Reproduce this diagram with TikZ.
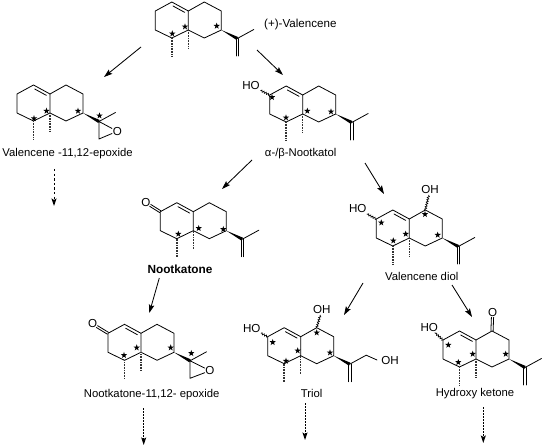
\documentclass[tikz,border=0pt]{standalone}
\usepackage{fontspec}
\setmainfont{Liberation Sans}
\usetikzlibrary{arrows.meta,decorations.pathmorphing}
\tikzset{
  x=1pt,y=-1pt,
  bond/.style={line width=.8pt,line join=round,line cap=round},
  hashb/.style={line width=1.5pt,dash pattern=on .7pt off .9pt,black!80},
  wavy/.style={line width=.7pt,decorate,decoration={snake,amplitude=.9pt,segment length=2.4pt}},
  lab/.style={font=\fontsize{11.3}{13}\selectfont,inner sep=0pt},
  atom/.style={font=\fontsize{11.6}{13}\selectfont,inner sep=.6pt},
  rxn/.style={line width=.85pt,-{Stealth[length=8.5pt,width=5.5pt,inset=1.5pt]}},
  dotrxn/.style={line width=1pt,dash pattern=on 1.5pt off 1.5pt,-{Stealth[length=7.5pt,width=5pt,inset=1.5pt,sep=0pt]}},
}
\newcommand\molskel[3]{%
  \begin{scope}[shift={(#2,#3)},name prefix=#1-]
    \coordinate (c1) at (-16.5,-9); \coordinate (c2) at (-33,0);
    \coordinate (c3) at (-33,19);   \coordinate (c4) at (-16.5,27);
    \coordinate (c5) at (0,19);     \coordinate (j) at (0,0);
    \coordinate (c7) at (16,-9);    \coordinate (c8) at (33,0);
    \coordinate (c9) at (33,19);    \coordinate (c10) at (16,27);
    \coordinate (c11) at (49,27.5); \coordinate (c12) at (65.5,18.5);
    \coordinate (c13) at (49,45);   \coordinate (m4) at (-16.5,46);
    \coordinate (m5) at (0,37);
    \coordinate (d1) at (-15.3,-5); \coordinate (d2) at (-3.6,1.4);
    \draw[bond] (c1)--(c2)--(c3)--(c4)--(c5)--(j)--(c1);
    \draw[bond] (d1)--(d2);
    \draw[bond] (j)--(c7)--(c8)--(c9)--(c10)--(c5);
    \draw[hashb] (c4)--(m4);
    \draw[hashb] (c5)--(m5);
    \fill (c9)--([shift={(-.7,1.5)}]c11)--([shift={(.7,-1.5)}]c11)--cycle;
    \draw[bond] (c11)--(c12);
  \end{scope}}
\newcommand\isopdb[1]{%
  \draw[bond] ([xshift=-1.2pt]#1-c11)--([xshift=-1.2pt]#1-c13);
  \draw[bond] ([xshift=1.2pt]#1-c11)--([xshift=1.2pt]#1-c13);}
\newcommand\epox[3]{% prefix, O x, O y
  \node[atom] (#1-O) at (#2,#3) {O};
  \draw[bond] (#1-c11)--(#1-c13)--(#1-O)--(#1-c11);}
\newcommand\ketone[3]{%
  \node[atom] (#1-k) at (#2,#3) {O};
  \draw[bond,shorten >=5pt] ([shift={(.6,-.9)}]#1-c2)--([shift={(.6,-.9)}]#1-k.center);
  \draw[bond,shorten >=5pt] ([shift={(-.6,.9)}]#1-c2)--([shift={(-.6,.9)}]#1-k.center);}
\newcommand\stars[1]{%
  \foreach \p in {#1}{\fill[shift={(\p)},scale=1.2] (0,-2.8)--(.65,-.89)--(2.66,-.87)--(1.05,.34)--(1.65,2.27)--(0,1.1)--(-1.65,2.27)--(-1.05,.34)--(-2.66,-.87)--(-.65,-.89)--cycle;}}
\begin{document}
\begin{tikzpicture}
\useasboundingbox (0,0) rectangle (543,446);
% valencene
\molskel{v}{188.3}{11}
\isopdb{v}
\stars{{172.3,33.7},{185,26.7},{216.7,26}}
\node[lab,anchor=west,font=\fontsize{11.6}{13}\selectfont] (vl) at (264,25) {(+)-Valencene};
% epoxide
\molskel{e}{50}{94}
\epox{e}{117.3}{131.3}
\stars{{34,118.5},{46.5,111},{78,111},{99.5,115.7}}
\node[lab] (el) at (67.5,154) {Valencene -11,12-epoxide};
% nootkatol
\molskel{n}{302.7}{95}
\isopdb{n}
\node[atom] (n-ho) at (251,85.7) {HO};
\draw[wavy] (n-c2)--(n-ho);
\stars{{272,97.3},{286,117.7},{307.3,111},{331,111.7}}
\node[lab] (nl) at (300.7,153.5) {α-/β-Nootkatol};
% nootkatone
\molskel{k}{193.3}{211.7}
\isopdb{k}
\ketone{k}{146}{202.7}
\stars{{178.3,234},{198.7,228.3},{223.3,229.3}}
\node[lab,font=\fontsize{11.8}{13}\selectfont\bfseries] (kl) at (180,269) {Nootkatone};
% diol
\molskel{d}{409.3}{219}
\isopdb{d}
\node[atom] (d-ho) at (357.7,209) {HO};
\node[atom] (d-oh) at (430,190) {OH};
\draw[wavy] (d-c2)--(d-ho);
\draw[wavy] (d-c7)--(d-oh);
\stars{{381.3,222.7},{393.3,240.7},{405.7,234},{437.7,235},{425,214.3}}
\node[lab] (dl) at (421.7,276) {Valencene diol};
% nootkatone epoxide
\molskel{f}{141}{333.3}
\epox{f}{210}{370.7}
\ketone{f}{92.7}{324}
\stars{{124,355.3},{136.7,347.7},{170.7,347.7},{191.3,353.3}}
\node[lab] (fl) at (151.7,394.7) {Nootkatone-11,12- epoxide};
% triol
\molskel{t}{300.7}{336.7}
\isopdb{t}
\node[atom] (t-ho) at (251.7,328.3) {HO};
\node[atom] (t-oh) at (321.7,310) {OH};
\node[atom] (t-ch) at (390,361) {OH};
\coordinate (t-c14) at (377,360);
\draw[wavy] (t-c2)--(t-ho);
\draw[wavy] (t-c7)--(t-oh);
\draw[bond] (t-c12)--(t-c14);
\stars{{272.7,342.3},{286,361},{297.7,350.7},{330,352.7},{316.7,332.7}}
\node[lab] (tl) at (311.7,393.3) {Triol};
% hydroxy ketone
\molskel{h}{476}{340}
\isopdb{h}
\node[atom] (h-ho) at (429.3,327.7) {HO};
\node[atom] (h-o) at (492.7,312.3) {O};
\draw[wavy] (h-c2)--(h-ho);
\draw[bond,shorten >=5pt] ([xshift=-1.1pt]h-c7)--([xshift=-1.1pt]h-o.center);
\draw[bond,shorten >=5pt] ([xshift=1.1pt]h-c7)--([xshift=1.1pt]h-o.center);
\stars{{448.3,345},{458.3,362.3},{472.7,354},{505.7,354}}
\node[lab] (hl) at (475,394) {Hydroxy ketone};
% arrows
\coordinate (a1s) at (141,47);  \coordinate (a1e) at (104,77);
\coordinate (a2s) at (257,50);  \coordinate (a2e) at (283,75);
\coordinate (a3s) at (252,160); \coordinate (a3e) at (222,189);
\coordinate (a4s) at (365,163); \coordinate (a4e) at (384,194);
\coordinate (a5s) at (159.3,278); \coordinate (a5e) at (149.3,313);
\coordinate (a6s) at (363,283); \coordinate (a6e) at (344,315);
\coordinate (a7s) at (452,285); \coordinate (a7e) at (472,317);
\foreach \i in {1,...,7}{\draw[rxn] (a\i s)--(a\i e);}
\coordinate (b1s) at (54,169);    \coordinate (b1e) at (54,206);
\coordinate (b2s) at (143.7,408); \coordinate (b2e) at (143.7,445);
\coordinate (b3s) at (305,403);   \coordinate (b3e) at (305,440);
\coordinate (b4s) at (483.3,407); \coordinate (b4e) at (483.3,443);
\draw[dotrxn,dash pattern=on 2.4pt off 2.2pt] (b1s)--(b1e);
\foreach \i in {2,3,4}{\draw[dotrxn] (b\i s)--(b\i e);}
\end{tikzpicture}
\end{document}
